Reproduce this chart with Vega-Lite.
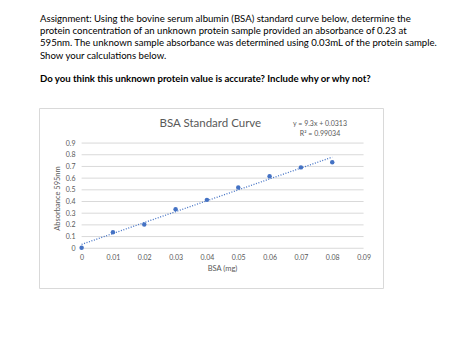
{
  "$schema": "https://vega.github.io/schema/vega-lite/v6.json",
  "width": 344,
  "height": 180,
  "autosize": {"type": "none"},
  "padding": {"left": 39, "top": 108, "right": 91, "bottom": 75},
  "background": "white",
  "title": {
    "text": [
      "Assignment:  Using the bovine serum albumin (BSA) standard curve below, determine the",
      "protein concentration of an unknown protein sample provided an absorbance of 0.23 at",
      "595nm.  The unknown sample absorbance was determined using 0.03mL of the protein sample.",
      "Show your calculations below."
    ],
    "subtitle": "Do you think this unknown protein value is accurate? Include why or why not?",
    "anchor": "start",
    "frame": "group",
    "dx": 1,
    "font": "Lato",
    "fontSize": 9.6,
    "fontWeight": "normal",
    "color": "#000000",
    "lineHeight": 12.3,
    "subtitleFont": "Lato",
    "subtitleFontSize": 9.6,
    "subtitleFontWeight": "bold",
    "subtitleColor": "#000000",
    "subtitlePadding": 14,
    "offset": 24
  },
  "config": {
    "view": {"stroke": "#d9d9d9", "strokeWidth": 1},
    "font": "Lato"
  },
  "datasets": {
    "points": [
      {"bsa": 0.00, "abs": 0.005},
      {"bsa": 0.01, "abs": 0.137},
      {"bsa": 0.02, "abs": 0.203},
      {"bsa": 0.03, "abs": 0.334},
      {"bsa": 0.04, "abs": 0.414},
      {"bsa": 0.05, "abs": 0.52},
      {"bsa": 0.06, "abs": 0.617},
      {"bsa": 0.07, "abs": 0.692},
      {"bsa": 0.08, "abs": 0.735}
    ],
    "grid": [
      {"abs": 0}, {"abs": 0.1}, {"abs": 0.2}, {"abs": 0.3}, {"abs": 0.4},
      {"abs": 0.5}, {"abs": 0.6}, {"abs": 0.7}, {"abs": 0.8}, {"abs": 0.9}
    ],
    "labels": [
      {"title": "BSA Standard Curve", "eq": "y = 9.3x + 0.0313", "r2": "R² = 0.99034"}
    ]
  },
  "layer": [
    {
      "data": {"name": "grid"},
      "mark": {"type": "rule", "color": "#d9d9d9", "strokeWidth": 1},
      "encoding": {
        "x": {"datum": 0, "type": "quantitative", "scale": {"domain": [-0.0136, 0.0962], "nice": false, "zero": false},
          "axis": {"values": [0, 0.01, 0.02, 0.03, 0.04, 0.05, 0.06, 0.07, 0.08, 0.09], "format": "~g", "grid": false, "domain": false, "ticks": false, "offset": -39.7, "labelPadding": 5, "labelFontSize": 7, "labelColor": "#595959", "title": "BSA (mg)", "titleFontSize": 7.5, "titleFontWeight": "normal", "titleColor": "#595959", "titlePadding": 4, "titleX": 183}},
        "x2": {"datum": 0.09},
        "y": {"field": "abs", "type": "quantitative", "scale": {"domain": [-0.34, 1.2], "nice": false, "zero": false},
          "axis": {"values": [0, 0.1, 0.2, 0.3, 0.4, 0.5, 0.6, 0.7, 0.8, 0.9], "format": "~g", "grid": false, "domain": false, "ticks": false, "offset": -40, "labelPadding": 4, "labelFontSize": 7, "labelColor": "#595959", "title": "Absorbance 595nm", "titleFontSize": 7.5, "titleFontWeight": "normal", "titleColor": "#595959", "titlePadding": 4}}
      }
    },
    {
      "data": {"name": "points"},
      "transform": [{"regression": "abs", "on": "bsa", "extent": [0, 0.08]}],
      "mark": {"type": "line", "color": "#4472c4", "strokeWidth": 1.3, "strokeDash": [1, 1.6]},
      "encoding": {
        "x": {"field": "bsa", "type": "quantitative", "scale": {"domain": [-0.0136, 0.0962], "nice": false, "zero": false},
          "axis": {"values": [0, 0.01, 0.02, 0.03, 0.04, 0.05, 0.06, 0.07, 0.08, 0.09], "format": "~g", "grid": false, "domain": false, "ticks": false, "offset": -39.7, "labelPadding": 5, "labelFontSize": 7, "labelColor": "#595959", "title": "BSA (mg)", "titleFontSize": 7.5, "titleFontWeight": "normal", "titleColor": "#595959", "titlePadding": 4, "titleX": 183}},
        "y": {"field": "abs", "type": "quantitative", "scale": {"domain": [-0.34, 1.2], "nice": false, "zero": false},
          "axis": {"values": [0, 0.1, 0.2, 0.3, 0.4, 0.5, 0.6, 0.7, 0.8, 0.9], "format": "~g", "grid": false, "domain": false, "ticks": false, "offset": -40, "labelPadding": 4, "labelFontSize": 7, "labelColor": "#595959", "title": "Absorbance 595nm", "titleFontSize": 7.5, "titleFontWeight": "normal", "titleColor": "#595959", "titlePadding": 4}}
      }
    },
    {
      "data": {"name": "points"},
      "mark": {"type": "circle", "color": "#4472c4", "size": 20, "opacity": 1},
      "encoding": {
        "x": {"field": "bsa", "type": "quantitative", "scale": {"domain": [-0.0136, 0.0962], "nice": false, "zero": false},
          "axis": {"values": [0, 0.01, 0.02, 0.03, 0.04, 0.05, 0.06, 0.07, 0.08, 0.09], "format": "~g", "grid": false, "domain": false, "ticks": false, "offset": -39.7, "labelPadding": 5, "labelFontSize": 7, "labelColor": "#595959", "title": "BSA (mg)", "titleFontSize": 7.5, "titleFontWeight": "normal", "titleColor": "#595959", "titlePadding": 4, "titleX": 183}},
        "y": {"field": "abs", "type": "quantitative", "scale": {"domain": [-0.34, 1.2], "nice": false, "zero": false},
          "axis": {"values": [0, 0.1, 0.2, 0.3, 0.4, 0.5, 0.6, 0.7, 0.8, 0.9], "format": "~g", "grid": false, "domain": false, "ticks": false, "offset": -40, "labelPadding": 4, "labelFontSize": 7, "labelColor": "#595959", "title": "Absorbance 595nm", "titleFontSize": 7.5, "titleFontWeight": "normal", "titleColor": "#595959", "titlePadding": 4}}
      }
    },
    {
      "data": {"name": "labels"},
      "mark": {"type": "text", "fontSize": 11.5, "color": "#595959", "align": "center", "baseline": "middle"},
      "encoding": {
        "text": {"field": "title"},
        "x": {"datum": 0.0411, "type": "quantitative", "scale": {"domain": [-0.0136, 0.0962], "nice": false, "zero": false},
          "axis": {"values": [0, 0.01, 0.02, 0.03, 0.04, 0.05, 0.06, 0.07, 0.08, 0.09], "format": "~g", "grid": false, "domain": false, "ticks": false, "offset": -39.7, "labelPadding": 5, "labelFontSize": 7, "labelColor": "#595959", "title": "BSA (mg)", "titleFontSize": 7.5, "titleFontWeight": "normal", "titleColor": "#595959", "titlePadding": 4, "titleX": 183}},
        "y": {"datum": 1.0635, "type": "quantitative", "scale": {"domain": [-0.34, 1.2], "nice": false, "zero": false},
          "axis": {"values": [0, 0.1, 0.2, 0.3, 0.4, 0.5, 0.6, 0.7, 0.8, 0.9], "format": "~g", "grid": false, "domain": false, "ticks": false, "offset": -40, "labelPadding": 4, "labelFontSize": 7, "labelColor": "#595959", "title": "Absorbance 595nm", "titleFontSize": 7.5, "titleFontWeight": "normal", "titleColor": "#595959", "titlePadding": 4}}
      }
    },
    {
      "data": {"name": "labels"},
      "mark": {"type": "text", "fontSize": 7, "color": "#595959", "align": "center", "baseline": "middle"},
      "encoding": {
        "text": {"field": "eq"},
        "x": {"datum": 0.0761, "type": "quantitative", "scale": {"domain": [-0.0136, 0.0962], "nice": false, "zero": false},
          "axis": {"values": [0, 0.01, 0.02, 0.03, 0.04, 0.05, 0.06, 0.07, 0.08, 0.09], "format": "~g", "grid": false, "domain": false, "ticks": false, "offset": -39.7, "labelPadding": 5, "labelFontSize": 7, "labelColor": "#595959", "title": "BSA (mg)", "titleFontSize": 7.5, "titleFontWeight": "normal", "titleColor": "#595959", "titlePadding": 4, "titleX": 183}},
        "y": {"datum": 1.0635, "type": "quantitative", "scale": {"domain": [-0.34, 1.2], "nice": false, "zero": false},
          "axis": {"values": [0, 0.1, 0.2, 0.3, 0.4, 0.5, 0.6, 0.7, 0.8, 0.9], "format": "~g", "grid": false, "domain": false, "ticks": false, "offset": -40, "labelPadding": 4, "labelFontSize": 7, "labelColor": "#595959", "title": "Absorbance 595nm", "titleFontSize": 7.5, "titleFontWeight": "normal", "titleColor": "#595959", "titlePadding": 4}}
      }
    },
    {
      "data": {"name": "labels"},
      "mark": {"type": "text", "fontSize": 7, "color": "#595959", "align": "center", "baseline": "middle"},
      "encoding": {
        "text": {"field": "r2"},
        "x": {"datum": 0.0761, "type": "quantitative", "scale": {"domain": [-0.0136, 0.0962], "nice": false, "zero": false},
          "axis": {"values": [0, 0.01, 0.02, 0.03, 0.04, 0.05, 0.06, 0.07, 0.08, 0.09], "format": "~g", "grid": false, "domain": false, "ticks": false, "offset": -39.7, "labelPadding": 5, "labelFontSize": 7, "labelColor": "#595959", "title": "BSA (mg)", "titleFontSize": 7.5, "titleFontWeight": "normal", "titleColor": "#595959", "titlePadding": 4, "titleX": 183}},
        "y": {"datum": 0.978, "type": "quantitative", "scale": {"domain": [-0.34, 1.2], "nice": false, "zero": false},
          "axis": {"values": [0, 0.1, 0.2, 0.3, 0.4, 0.5, 0.6, 0.7, 0.8, 0.9], "format": "~g", "grid": false, "domain": false, "ticks": false, "offset": -40, "labelPadding": 4, "labelFontSize": 7, "labelColor": "#595959", "title": "Absorbance 595nm", "titleFontSize": 7.5, "titleFontWeight": "normal", "titleColor": "#595959", "titlePadding": 4}}
      }
    }
  ]
}
